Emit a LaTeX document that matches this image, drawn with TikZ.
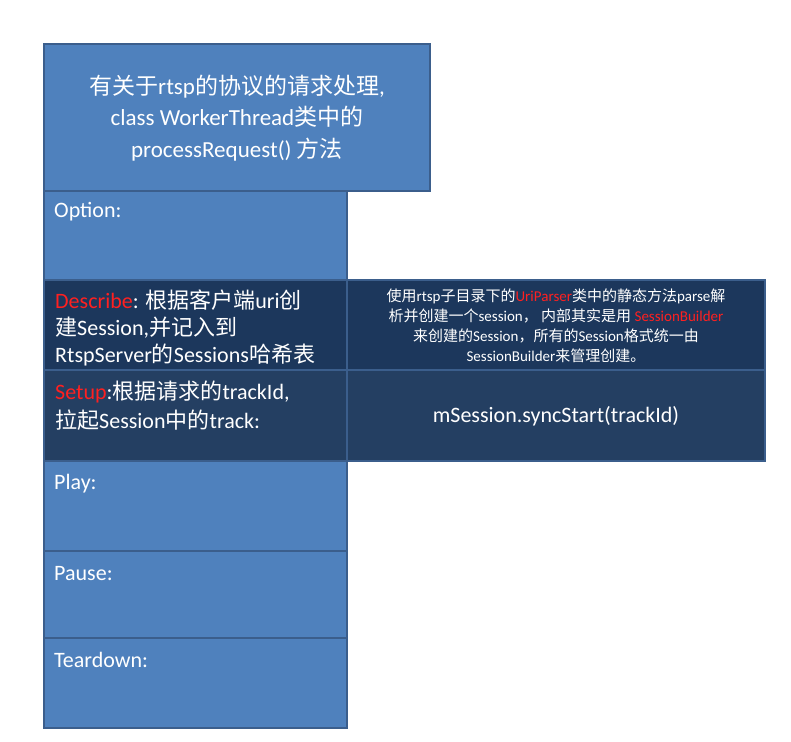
\documentclass[tikz,border=0pt]{standalone}
\usepackage{fontspec}
\setmainfont{Carlito}
\newfontfamily\cjkf{Noto Sans CJK SC}
\newfontfamily\latf{Carlito}
\XeTeXinterchartokenstate=1
\newXeTeXintercharclass\cjkcls
\count255="3000
\loop \XeTeXcharclass\count255=\cjkcls \ifnum\count255<"9FFF \advance\count255 1 \repeat
\XeTeXcharclass"FF0C=\cjkcls
\XeTeXinterchartoks 0 \cjkcls={\cjkf}
\XeTeXinterchartoks 4095 \cjkcls={\cjkf}
\XeTeXinterchartoks \cjkcls 0={\latf}
\XeTeXinterchartoks \cjkcls 4095={\latf}
\definecolor{cellblue}{HTML}{4F81BD}
\definecolor{cellline}{HTML}{3B5E8C}
\definecolor{navy}{HTML}{1C375C}
\definecolor{navyb}{HTML}{243F62}
\definecolor{wred}{HTML}{FF2020}
\tikzset{
 cell/.style={draw=cellline,line width=2.5pt},
 txt/.style={text=white,inner sep=0pt,font=\fontsize{22}{27}\selectfont},
 small/.style={text=white,inner sep=0pt,align=center,font=\fontsize{15}{20}\selectfont}
}
\begin{document}
\begin{tikzpicture}[x=1pt,y=-1pt]
\useasboundingbox (0,0) rectangle (791,741);
\fill[white] (0,0) rectangle (791,741);
\path[cell,fill=cellblue] (44,44) rectangle (430,191);
\path[cell,fill=cellblue] (44,191) rectangle (347,280);
\path[cell,fill=navy] (44,280) rectangle (347,370);
\path[cell,fill=navyb] (44,370) rectangle (347,461);
\path[cell,fill=cellblue] (44,461) rectangle (347,551);
\path[cell,fill=cellblue] (44,551) rectangle (347,638);
\path[cell,fill=cellblue] (44,638) rectangle (347,728);
\path[cell,fill=navy] (347,280) rectangle (765,370);
\path[cell,fill=navyb] (347,370) rectangle (765,461);
\node[txt,align=center,font=\fontsize{23}{31.5}\selectfont] (title) at (237,118) {有关于rtsp的协议的请求处理,\\class WorkerThread类中的\\processRequest() 方法};
\node[txt,anchor=west] (opt) at (54,212) {Option:};
\node[txt,anchor=north west,align=left] (desc) at (55,290) {{\color{wred}Describe}: 根据客户端uri创\\建Session,并记入到\\RtspServer的Sessions哈希表};
\node[txt,anchor=north west,align=left,font=\fontsize{22}{29}\selectfont] (setup) at (55,381) {{\color{wred}Setup}:根据请求的trackId,\\拉起Session中的track:};
\node[txt,anchor=west] (play) at (54,484) {Play:};
\node[txt,anchor=west] (pause) at (54,574) {Pause:};
\node[txt,anchor=west] (tear) at (54,660) {Teardown:};
\node[small] (note) at (556,326) {使用rtsp子目录下的{\color{wred}UriParser}类中的静态方法parse解\\析并创建一个session， 内部其实是用 {\color{wred}SessionBuilder}\\来创建的Session，所有的Session格式统一由\\SessionBuilder来管理创建。};
\node[txt] (sync) at (556,416) {mSession.syncStart(trackId)};
\end{tikzpicture}
\end{document}
